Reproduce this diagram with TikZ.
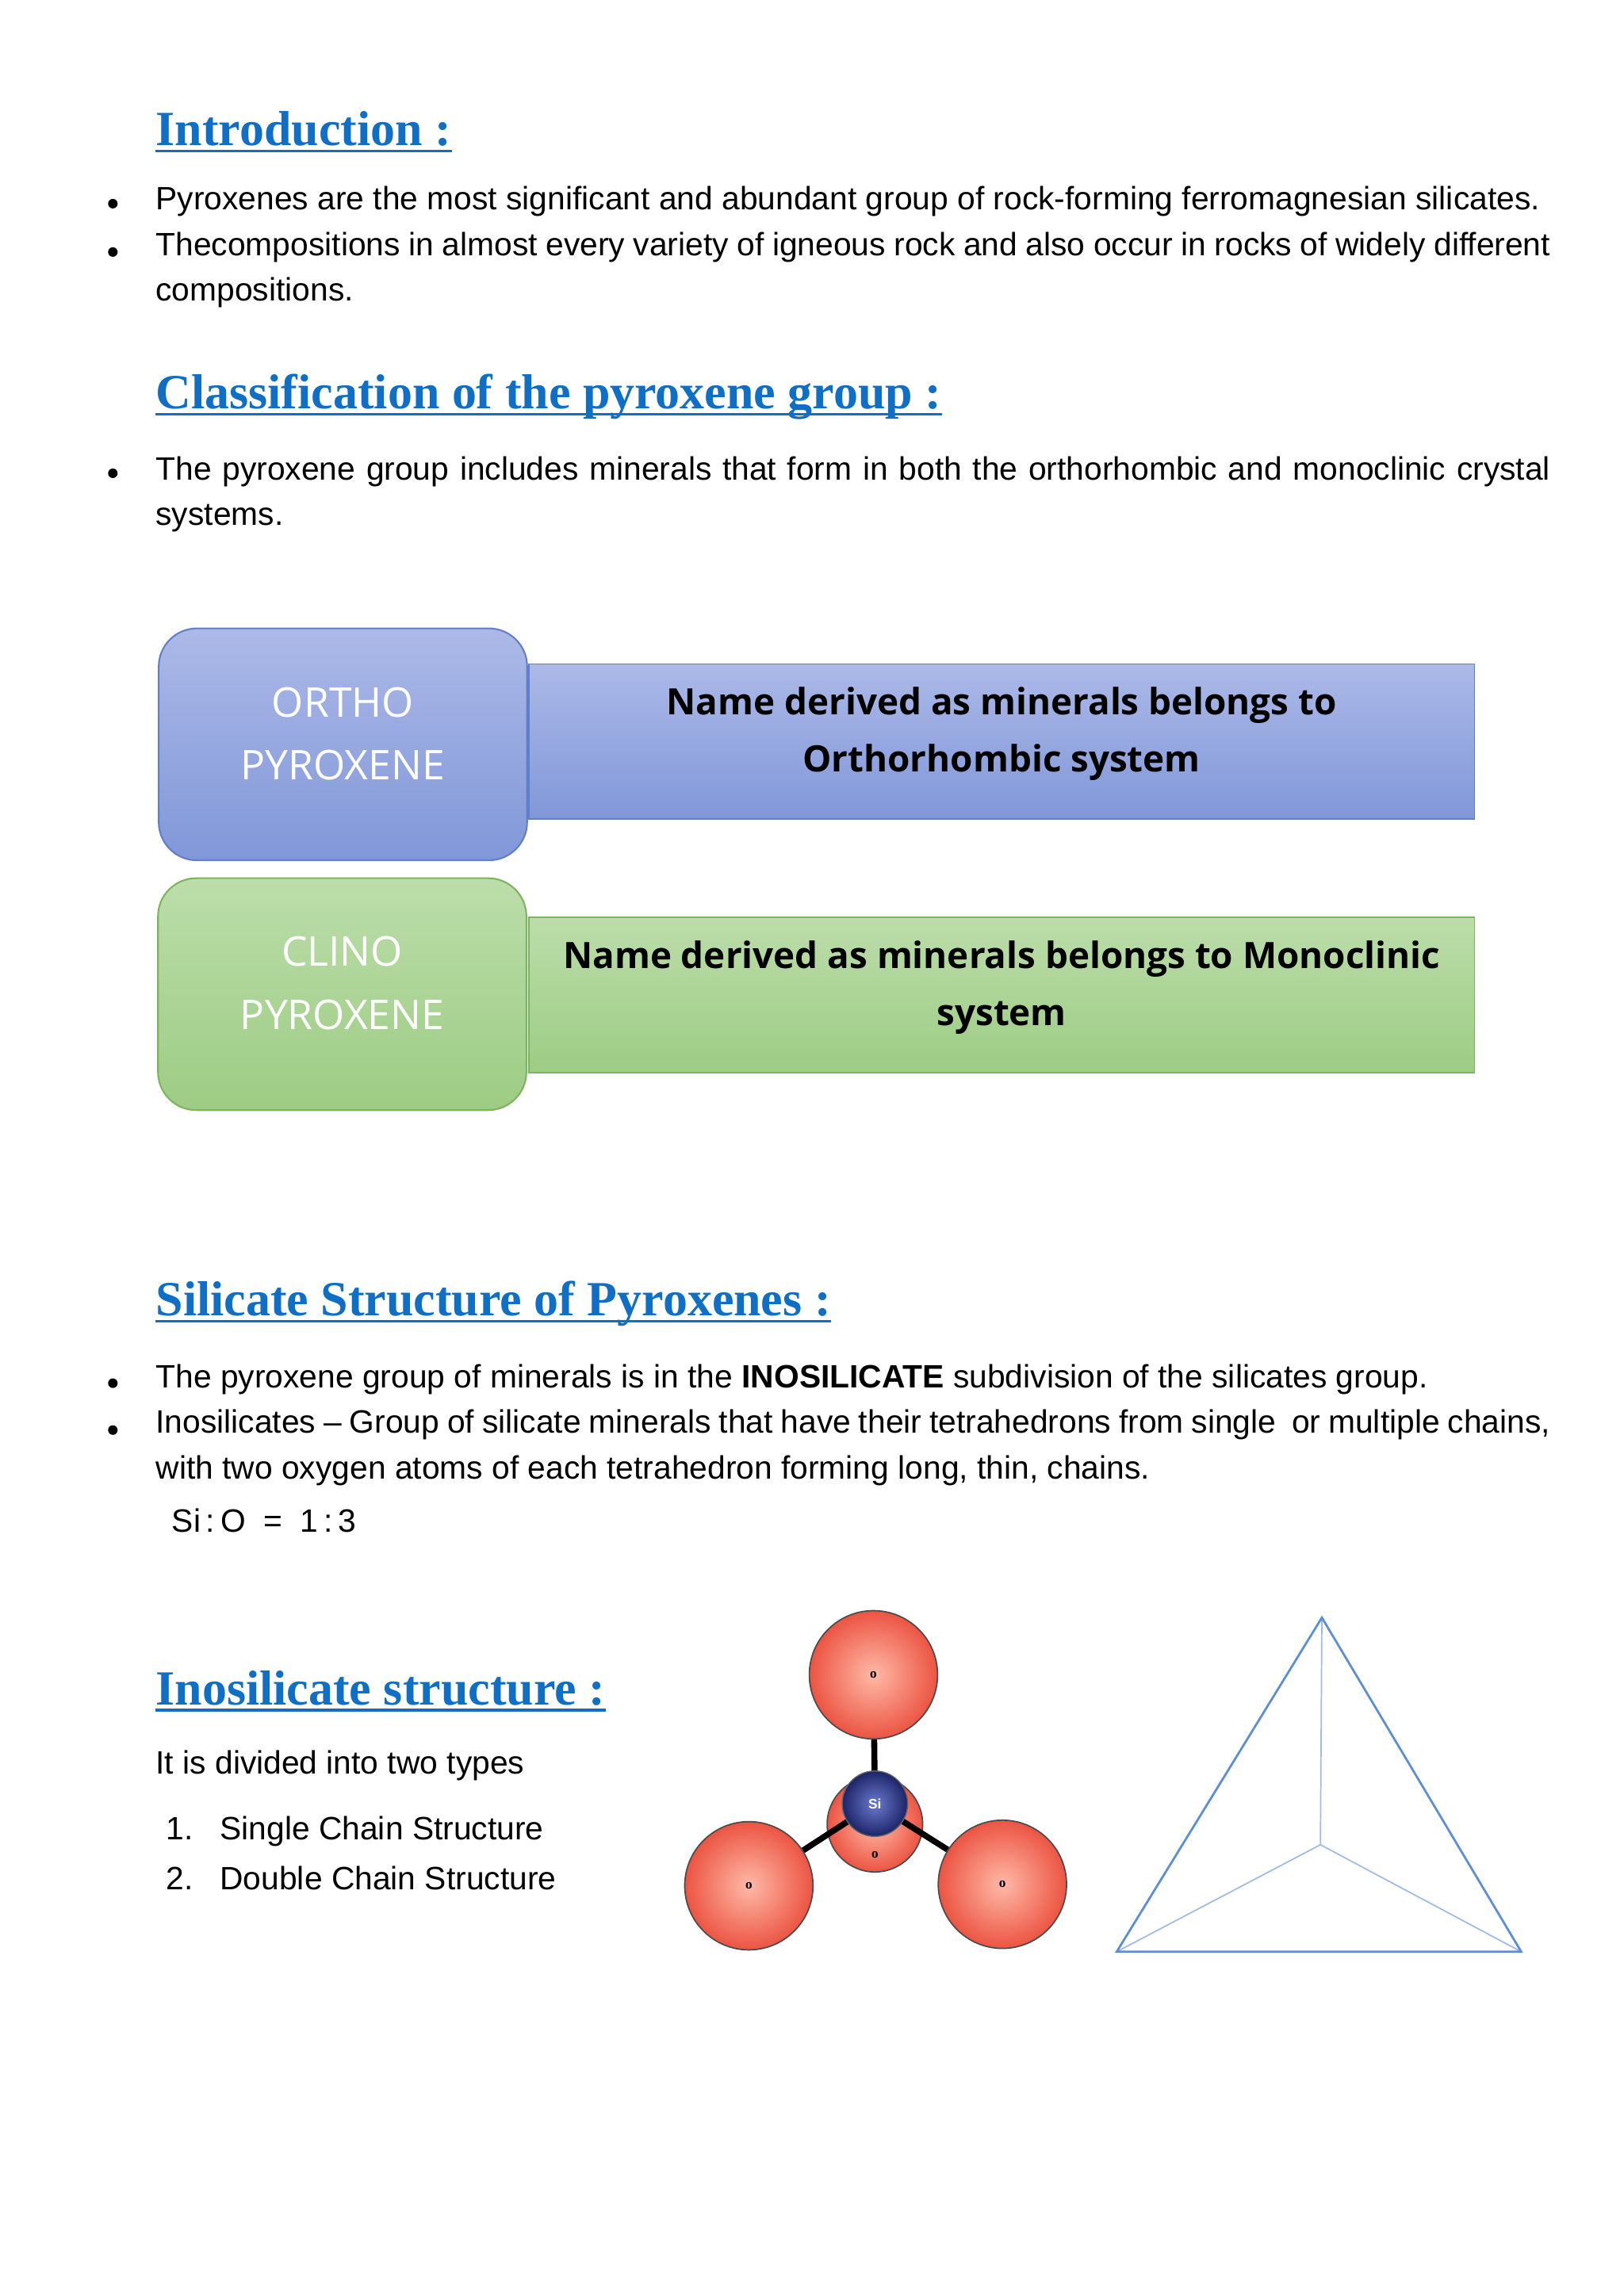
\documentclass[tikz,border=0pt]{standalone}
\usepackage{fontspec}
\setmainfont{Liberation Sans}
\newfontfamily\headfont{Liberation Serif}
\newfontfamily\boxfont{Open Sans}
\hyphenpenalty=10000
\exhyphenpenalty=10000
\begin{document}
\definecolor{headblue}{HTML}{0F6FC6}
\definecolor{tetra}{HTML}{5B8ED6}
\definecolor{bltop}{HTML}{ACB9E8}
\definecolor{blbot}{HTML}{8197D8}
\definecolor{bldraw}{HTML}{5F7FCB}
\definecolor{grtop}{HTML}{BCDDAA}
\definecolor{grbot}{HTML}{9DCC84}
\definecolor{grdraw}{HTML}{7DB45F}
\definecolor{oin}{HTML}{FFB9A8}
\definecolor{oout}{HTML}{EC5442}
\definecolor{siin}{HTML}{6C7BCF}
\definecolor{siout}{HTML}{1D2467}
\begin{tikzpicture}[x=0.537pt,y=-0.537pt,
  head/.style={anchor=west,inner sep=0,font=\headfont\bfseries\fontsize{18}{20}\selectfont,text=headblue},
  uline/.style={headblue,line width=0.9pt},
  para/.style={anchor=north west,inner sep=0,text width=511pt,align=justify,font=\fontsize{11.85}{16.6}\selectfont},
  txt/.style={anchor=west,inner sep=0,font=\fontsize{11.85}{16.6}\selectfont},
  bul/.style={circle,fill=black,inner sep=0,minimum size=3.5pt},
  lbox/.style={rounded corners=14pt,line width=0.6pt,align=center,text=white,font=\boxfont\fontsize{15}{23}\selectfont},
  rbox/.style={line width=0.6pt,align=center,font=\boxfont\bfseries\fontsize{13.3}{21}\selectfont},
  oatom/.style={circle,draw=black!70,line width=0.5pt,inner color=oin,outer color=oout,inner sep=0,font=\headfont\bfseries\tiny},
]
\useasboundingbox (0,0) rectangle (1108,1567);
\fill[white] (0,0) rectangle (1108,1567);

\node[head] (h1) at (106,88) {Introduction :};
\draw[uline] ([yshift=-2pt]h1.base west) -- ([yshift=-2pt]h1.base east);
\node[bul] (b1) at (77,139) {};
\node[bul] (b2) at (77,172) {};
\node[para] (p1) at (106,127) {Pyroxenes are the most significant and abundant group of rock-forming ferromagnesian silicates.\\
Thecompositions in almost every variety of igneous rock and also occur in rocks of widely different compositions.};

\node[head] (h2) at (106,271) {Classification of the pyroxene group :};
\draw[uline] ([yshift=-2pt]h2.base west) -- ([yshift=-2pt]h2.base east);
\node[bul] (b3) at (77,323) {};
\node[para] (p2) at (106,311) {The pyroxene group includes minerals that form in both the orthorhombic and monoclinic crystal systems.};

\draw[draw=bldraw,top color=bltop,bottom color=blbot] (361,453) rectangle (1006,559);
\node[rbox] (r1) at (683.5,501) {Name derived as minerals belongs to\\Orthorhombic system};
\node[lbox,draw=bldraw,top color=bltop,bottom color=blbot,minimum width=135pt,minimum height=85pt] (ortho) at (234,508) {};
\node[lbox] (ortt) at (234,501) {ORTHO\\PYROXENE};

\draw[draw=grdraw,top color=grtop,bottom color=grbot] (361,626) rectangle (1006,732);
\node[rbox] (r2) at (683.5,674) {Name derived as minerals belongs to Monoclinic\\system};
\node[lbox,draw=grdraw,top color=grtop,bottom color=grbot,minimum width=135pt,minimum height=85pt] (clino) at (233.5,678.5) {};
\node[lbox] (clit) at (233.5,671) {CLINO\\PYROXENE};

\node[head] (h3) at (106,890) {Silicate Structure of Pyroxenes :};
\draw[uline] ([yshift=-2pt]h3.base west) -- ([yshift=-2pt]h3.base east);
\node[bul] (b4) at (77,944) {};
\node[bul] (b5) at (77,976) {};
\node[para] (p3) at (106,931) {The pyroxene group of minerals is in the \textbf{INOSILICATE} subdivision of the silicates group.\\
Inosilicates -- Group of silicate minerals that have their tetrahedrons from single\ \ or multiple chains, with two oxygen atoms of each tetrahedron forming long, thin, chains.};
\node[txt] (ratio) at (117,1038) {Si\,:\,O\ \ =\ \ 1\,:\,3};

\node[head] (h4) at (106,1152) {Inosilicate structure :};
\draw[uline] ([yshift=-2pt]h4.base west) -- ([yshift=-2pt]h4.base east);
\node[txt] (t1) at (106,1205) {It is divided into two types};
\node[txt] (n1) at (113,1250) {1.\ \ \ Single Chain Structure};
\node[txt] (n2) at (113,1282) {2.\ \ \ Double Chain Structure};

% molecule
\node[oatom,minimum size=35pt] (obot) at (597,1245) {};
\node[font=\headfont\bfseries\tiny] (obl) at (597,1266) {o};
\node[oatom,minimum size=47pt] (otop) at (596,1143) {o};
\node[oatom,minimum size=47pt] (oleft) at (511,1287) {o};
\node[oatom,minimum size=47pt] (oright) at (684,1286) {o};
\coordinate (sic) at (597,1231);
\draw[line width=2.2pt] (sic) -- (otop);
\draw[line width=2.2pt] (sic) -- (oleft);
\draw[line width=2.2pt] (sic) -- (oright);
\node[circle,inner color=siin,outer color=siout,draw=black!60,minimum size=24pt,inner sep=0,text=white,font=\bfseries\tiny] (si) at (sic) {Si};

% tetrahedron
\coordinate (ta) at (902,1104);
\coordinate (tl) at (762,1332);
\coordinate (tr) at (1038,1332);
\coordinate (ti) at (901,1259);
\draw[tetra!60,line width=0.5pt] (ta) -- (ti) (tl) -- (ti) -- (tr);
\draw[tetra,line width=0.8pt] (ta) -- (tl) -- (tr) -- cycle;
\end{tikzpicture}
\end{document}
